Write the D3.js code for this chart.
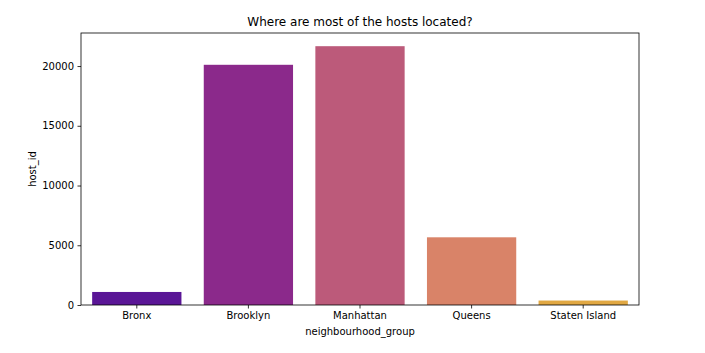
<!DOCTYPE html>
<html>
<head>
<meta charset="utf-8">
<script src="https://cdn.jsdelivr.net/npm/d3@7"></script>
<style>
  body { margin: 0; background: #fff; }
  text { font-family: "DejaVu Sans", sans-serif; fill: #000; }
</style>
</head>
<body>
<div id="chart"></div>
<script>
// data
const groups = ["Bronx", "Brooklyn", "Manhattan", "Queens", "Staten Island"];
const hostCounts = [1091, 20104, 21661, 5666, 373];
const barColors = ["#5a1696", "#8b298b", "#bc5a7a", "#d98368", "#e1a843"];
const yTicks = [0, 5000, 10000, 15000, 20000];

let margin = {top: 33, right: 66, bottom: 48, left: 81},
width = 705 - margin.left - margin.right,
height = 353 - margin.top - margin.bottom;

let svg = d3.select("#chart")
.append("svg")
    .attr("width", 705)
    .attr("height", 353)
.append("g")
    .attr("transform", `translate(${margin.left},${margin.top})`);

let x = d3.scaleBand()
    .domain(groups)
    .range([0, width])
    .paddingInner(0.2)
    .paddingOuter(0.1);

let y = d3.scaleLinear()
    .domain([0, 22765])
    .range([height, 0]);

// bars
svg.selectAll("rect.bar")
    .data(groups)
    .enter().append("rect")
    .attr("class", "bar")
    .attr("x", d => x(d))
    .attr("width", x.bandwidth())
    .attr("y", (d, i) => y(hostCounts[i]))
    .attr("height", (d, i) => height - y(hostCounts[i]))
    .attr("fill", (d, i) => barColors[i]);

// axes
let xAxis = svg.append("g")
    .attr("transform", `translate(0, ${height})`)
    .call(d3.axisBottom(x).tickSize(3.5).tickPadding(3.5).tickSizeOuter(0));

let yAxis = svg.append("g")
    .call(d3.axisLeft(y).tickValues(yTicks).tickFormat(d3.format("d")).tickSize(3.5).tickPadding(3.5).tickSizeOuter(0));

[xAxis, yAxis].forEach(a => {
    a.selectAll("text").style("font-size", "10px").style("font-family", "DejaVu Sans");
    a.selectAll("line").attr("stroke", "#000").attr("stroke-width", 0.8);
    a.select(".domain").remove();
});

// frame
svg.append("rect")
    .attr("width", width)
    .attr("height", height)
    .attr("fill", "none")
    .attr("stroke", "#000")
    .attr("stroke-width", 0.8);

// labels
svg.append("text")
    .attr("x", width / 2)
    .attr("y", -7)
    .attr("text-anchor", "middle")
    .style("font-size", "12px")
    .text("Where are most of the hosts located?");

svg.append("text")
    .attr("x", width / 2)
    .attr("y", height + 30)
    .attr("text-anchor", "middle")
    .style("font-size", "10px")
    .text("neighbourhood_group");

svg.append("text")
    .attr("transform", `translate(-45, ${height / 2}) rotate(-90)`)
    .attr("text-anchor", "middle")
    .style("font-size", "10px")
    .text("host_id");
</script>
</body>
</html>
